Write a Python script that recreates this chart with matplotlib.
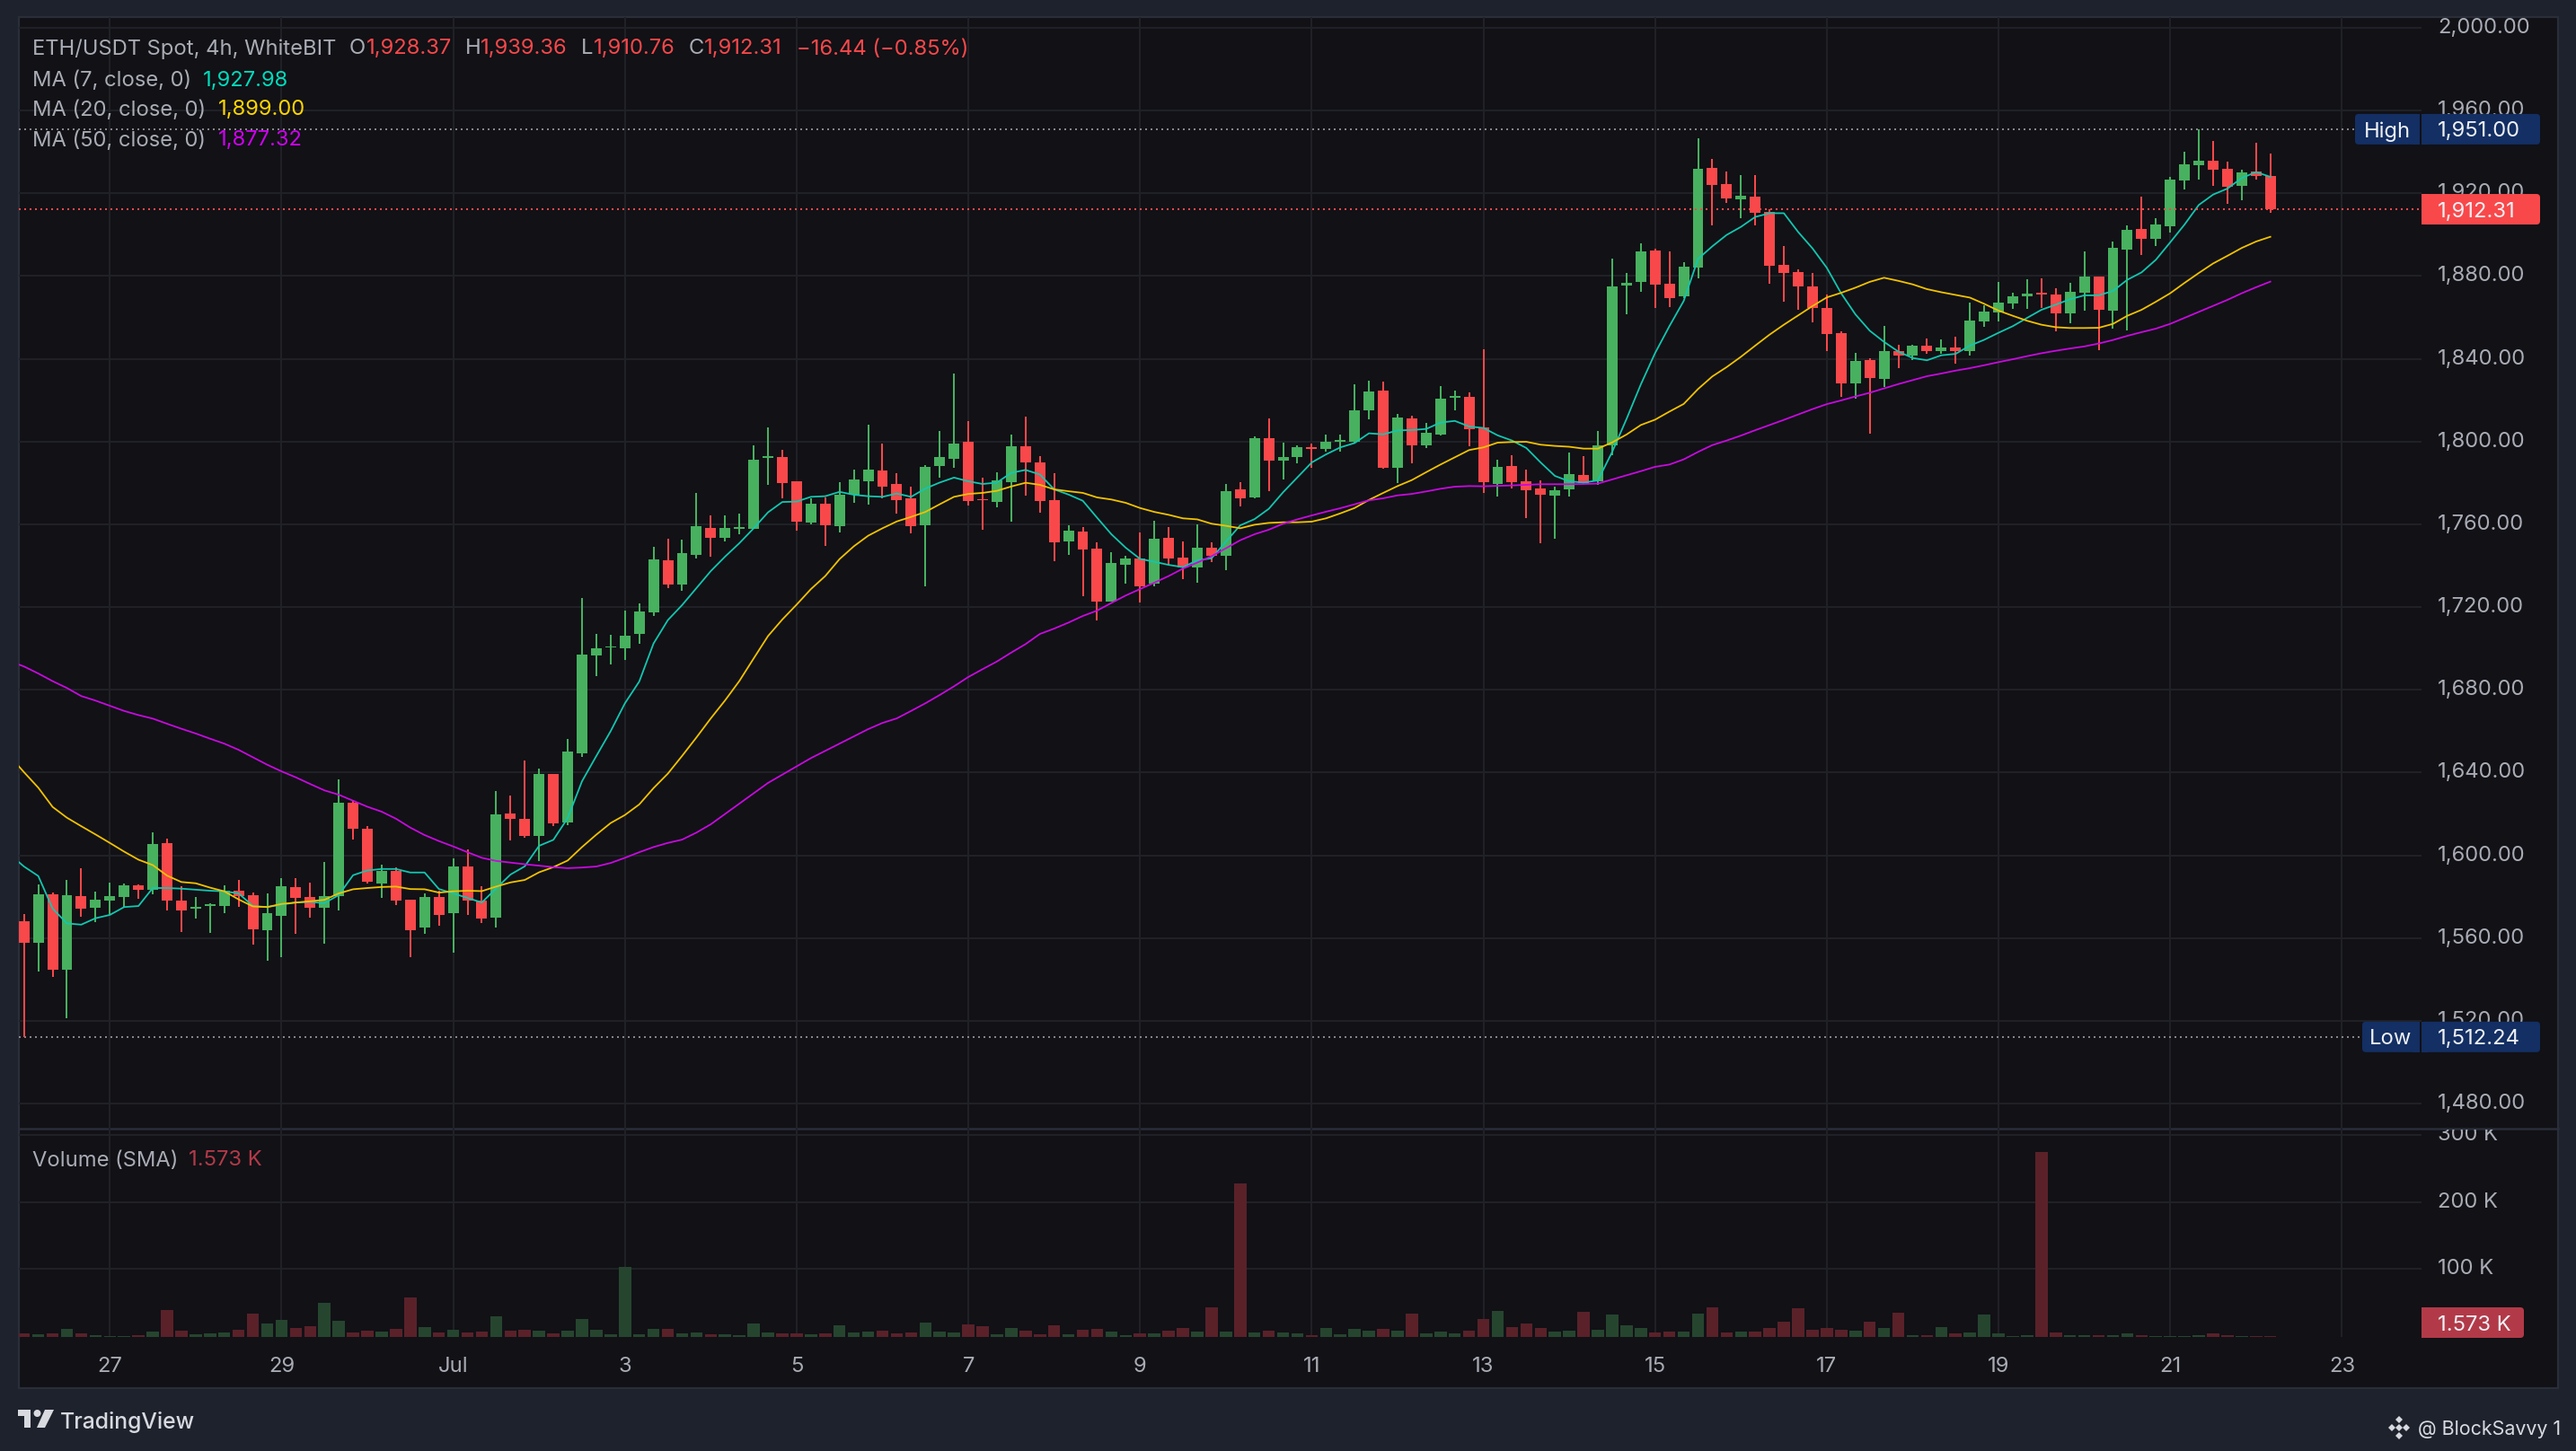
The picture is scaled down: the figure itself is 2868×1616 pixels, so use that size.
import matplotlib
matplotlib.use("Agg")
import matplotlib.pyplot as plt
from matplotlib.patches import FancyBboxPatch, Rectangle, Polygon, Circle
from matplotlib.transforms import Bbox

plt.rcParams['font.family'] = ['Inter', 'DejaVu Sans']
plt.rcParams['ytick.alignment'] = 'center'

# ---------- data ----------
OPEN = [1568.1,1557.8,1581.1,1544.8,1580.3,1574.8,1578.2,1579.8,1585.5,1583.4,1605.9,1578.1,1574.3,1575.6,1575.5,1582.9,1580.7,1563.9,1570.9,1584.6,
        1579.8,1574.8,1580.4,1625.4,1612.8,1586.3,1592.4,1578.5,1565.2,1579.8,1572.2,1594.6,1578.1,1570.0,1620.2,1617.6,1609.5,1639.3,1616.0,1649.3,
        1696.6,1700.4,1700.1,1707.1,1717.6,1742.6,1731.0,1745.3,1758.2,1753.5,1757.9,1757.9,1792.2,1792.5,1780.8,1760.8,1770.0,1759.3,1774.3,1781.0,
        1786.0,1779.5,1772.6,1759.7,1788.3,1791.8,1799.9,1772.1,1771.0,1780.5,1797.7,1789.9,1771.7,1751.9,1756.5,1748.2,1722.8,1740.6,1743.5,1731.5,
        1753.5,1743.9,1739.3,1748.7,1744.9,1776.9,1773.1,1801.7,1791.0,1792.5,1797.3,1796.4,1800.0,1799.9,1815.1,1824.7,1787.5,1811.2,1798.3,1803.4,
        1821.3,1821.6,1806.9,1779.7,1788.2,1780.8,1777.4,1774.0,1777.1,1783.9,1781.0,1798.3,1875.4,1877.1,1892.3,1876.3,1870.2,1884.1,1932.3,1924.5,
        1917.2,1918.4,1911.0,1885.4,1881.9,1875.0,1864.6,1852.4,1828.3,1839.4,1830.4,1843.8,1841.7,1846.4,1843.9,1845.5,1843.9,1858.2,1862.5,1866.9,
        1870.3,1871.9,1871.1,1862.1,1872.1,1879.8,1863.4,1892.9,1902.8,1898.1,1904.2,1926.4,1933.7,1935.8,1931.9,1923.8,1930.5,1928.37]
HIGH = [1571.4,1585.9,1582.0,1587.9,1593.6,1582.3,1586.8,1586.3,1585.9,1611.1,1607.9,1585.0,1579.7,1576.8,1585.5,1588.1,1582.0,1581.6,1588.9,1588.9,
        1586.8,1596.8,1636.7,1626.7,1614.0,1595.5,1594.2,1578.5,1581.6,1582.9,1598.5,1602.8,1585.0,1631.0,1628.9,1645.8,1641.9,1639.3,1656.2,1724.4,
        1707.0,1706.6,1718.3,1721.8,1749.1,1753.0,1752.6,1775.2,1764.3,1764.3,1765.2,1798.2,1806.8,1796.0,1780.8,1772.6,1773.0,1780.4,1786.5,1808.2,
        1799.0,1784.7,1778.2,1788.6,1805.1,1832.9,1809.9,1782.5,1785.2,1803.4,1812.1,1793.0,1784.7,1759.5,1758.7,1751.3,1746.5,1744.8,1756.2,1761.7,
        1758.7,1751.7,1760.0,1751.3,1779.5,1780.4,1802.5,1811.2,1799.5,1798.2,1799.0,1803.4,1803.4,1827.7,1829.4,1829.0,1813.4,1812.5,1809.0,1826.8,
        1824.7,1823.8,1844.6,1791.2,1793.4,1786.5,1781.3,1778.2,1794.7,1793.0,1805.1,1888.4,1881.5,1895.8,1893.2,1891.9,1886.7,1946.6,1936.6,1930.5,
        1928.8,1928.8,1912.4,1894.5,1883.2,1881.5,1871.1,1853.3,1842.9,1840.3,1855.9,1846.8,1846.8,1849.8,1849.4,1850.7,1867.2,1865.9,1877.1,1871.9,
        1878.4,1878.9,1874.1,1876.7,1891.9,1879.8,1896.7,1904.5,1918.4,1908.0,1927.9,1940.1,1951.0,1945.3,1935.3,1931.4,1944.4,1939.36]
LOW = [1512.24,1543.9,1541.3,1521.4,1570.4,1567.8,1571.3,1575.3,1579.0,1581.3,1573.5,1563.0,1569.6,1562.6,1572.2,1575.1,1557.0,1549.2,1550.9,1562.2,
       1570.0,1557.4,1573.5,1607.7,1586.5,1579.5,1576.1,1550.9,1562.2,1566.1,1553.1,1571.3,1567.4,1565.2,1607.3,1608.6,1597.3,1614.3,1614.7,1647.6,
       1686.6,1692.3,1694.5,1702.4,1715.8,1729.3,1728.0,1743.6,1744.5,1751.9,1755.3,1757.8,1779.2,1772.7,1757.1,1760.1,1749.7,1756.2,1770.5,1769.7,
       1772.7,1765.3,1755.8,1730.2,1782.7,1787.5,1769.2,1757.5,1768.4,1761.4,1774.0,1765.8,1742.3,1745.3,1725.4,1713.7,1722.8,1731.5,1722.4,1730.2,
       1740.6,1733.6,1731.9,1741.9,1738.0,1768.8,1772.5,1776.2,1781.8,1789.6,1787.5,1795.3,1795.3,1799.3,1810.9,1787.0,1780.1,1789.6,1797.0,1803.0,
       1815.3,1797.9,1775.3,1773.6,1777.5,1763.2,1751.0,1753.2,1773.6,1779.4,1779.2,1793.5,1861.7,1872.4,1864.6,1865.0,1869.5,1878.9,1904.5,1915.5,
       1908.1,1904.7,1876.4,1867.8,1863.9,1857.8,1843.9,1821.8,1820.9,1804.0,1826.5,1835.6,1839.6,1842.6,1842.6,1837.8,1841.7,1855.6,1858.2,1864.3,
       1864.3,1864.7,1853.4,1857.3,1863.4,1844.3,1854.7,1853.9,1890.3,1894.7,1901.2,1922.0,1926.8,1923.8,1915.0,1916.8,1926.8,1910.76]
CLOSE = [1557.8,1581.1,1544.8,1580.7,1574.3,1578.5,1580.3,1585.5,1583.4,1605.4,1578.2,1573.5,1575.1,1576.4,1582.9,1580.3,1564.2,1572.0,1585.0,1579.4,
         1574.8,1580.3,1625.4,1613.0,1587.2,1592.4,1578.2,1563.9,1579.8,1571.1,1594.6,1578.2,1569.6,1619.8,1617.7,1609.5,1639.3,1615.6,1650.1,1697.0,
         1700.1,1701.0,1706.2,1717.9,1743.0,1731.0,1746.1,1759.1,1753.5,1758.2,1758.7,1791.2,1793.0,1780.1,1761.3,1770.0,1759.7,1774.3,1781.7,1786.5,
         1778.3,1771.8,1759.3,1787.8,1792.5,1799.0,1771.4,1771.5,1781.2,1797.7,1790.1,1771.4,1751.4,1756.9,1748.0,1722.8,1741.3,1743.5,1730.2,1753.0,
         1743.6,1739.3,1748.7,1744.8,1776.0,1772.6,1801.6,1791.0,1792.5,1797.3,1796.6,1799.9,1800.8,1815.1,1824.2,1787.5,1811.6,1798.3,1804.3,1820.8,
         1821.9,1806.1,1780.5,1787.8,1780.5,1776.6,1774.5,1776.5,1784.3,1780.1,1798.2,1875.0,1876.7,1891.9,1875.9,1869.3,1884.5,1931.8,1924.0,1917.7,
         1918.8,1910.7,1885.1,1881.6,1875.1,1864.7,1852.1,1828.3,1839.0,1830.9,1843.8,1841.7,1846.4,1843.9,1845.5,1843.9,1858.5,1862.8,1867.2,1870.2,
         1871.5,1871.1,1862.1,1872.4,1879.8,1863.9,1893.7,1902.3,1898.1,1904.9,1926.7,1934.0,1935.8,1931.6,1923.3,1930.1,1928.5,1912.31]
VOLUME_K = [5.3,4,5.3,12,5.3,2.7,1.3,1.3,2.7,8,40,9.3,4,5.3,6.7,10.7,34.7,20,25.3,13.3,
            16,50.7,24,6.7,9.3,8,12,58.7,14.7,6.7,10.7,6.7,8,30.7,9.3,10.7,9.3,5.3,9.3,26.7,
            10.7,4,104,4,12,12,5.3,6.7,4,4,2.7,20,6.7,5.3,5.3,4,5.3,17.3,6.7,8,
            9.3,5.3,6.7,21.3,8,6.7,18.7,16,4,13.3,9.3,4,17.3,4,10.7,12,8,2.7,5.3,5.3,
            9.3,13.3,8,44,8,229.3,6.7,9.3,6.7,5.3,2.7,13.3,4,12,9.3,12,9.3,34.7,5.3,8,
            5.3,9.3,26.7,38.7,14.7,20,13.3,8,9.3,37.3,10.7,33.3,17.3,13.3,6.7,8,8,34.7,44,6.7,
            8,8,13.3,22.7,42.7,10.7,13.3,10.7,9.3,22.7,13.3,36,2.7,2.7,14.7,5.3,6.7,33.3,5.3,1.3,
            2.7,276,6.7,2.7,2.7,2.7,2.7,5.3,2.7,1.3,1.3,1.3,2.7,5.3,2.7,1.3,1.3,1.3]
# moving averages: first value belongs to the candle just left of the chart edge
MA7 = [1600.5,1594.6,1590.0,1574.3,1567.1,1566.5,1569.6,1571.2,1575.0,1575.5,1584.2,1584.2,1583.9,1583.4,1582.9,1582.6,1581.6,1575.5,1575.0,1576.2,
       1577.2,1577.5,1576.9,1580.8,1590.4,1592.7,1593.4,1593.4,1591.7,1591.7,1583.7,1581.6,1579.4,1577.2,1584.0,1590.7,1594.7,1604.6,1607.5,1618.0,
       1635.8,1648.0,1660.0,1673.5,1684.0,1702.4,1713.7,1721.0,1729.2,1737.4,1744.4,1750.9,1758.1,1765.8,1770.8,1771.0,1773.3,1773.6,1775.7,1774.3,
       1773.6,1773.3,1774.9,1773.3,1777.3,1780.2,1782.6,1780.8,1779.5,1780.2,1784.9,1786.3,1784.1,1776.9,1774.4,1771.4,1763.2,1755.2,1748.7,1743.3,
       1741.9,1740.4,1739.3,1742.6,1743.6,1751.6,1759.5,1762.5,1767.5,1775.5,1782.7,1789.9,1793.8,1797.2,1799.3,1804.0,1803.5,1805.4,1805.6,1806.1,
       1809.2,1810.0,1807.3,1806.6,1803.0,1800.5,1796.9,1789.9,1783.4,1780.8,1780.2,1781.2,1795.0,1810.9,1827.6,1842.8,1855.8,1868.0,1888.3,1894.4,
       1899.9,1903.8,1908.6,1910.4,1910.4,1901.3,1893.4,1884.0,1871.7,1861.5,1853.6,1848.2,1843.5,1840.4,1839.3,1841.7,1842.4,1846.4,1849.2,1852.6,
       1855.8,1859.8,1863.7,1866.2,1868.8,1870.7,1870.7,1872.8,1878.2,1881.8,1887.9,1896.3,1904.9,1914.4,1919.4,1922.3,1927.4,1930.3,1927.98]
MA20 = [1648.0,1640.2,1632.7,1623.4,1618.2,1614.1,1610.1,1606.0,1601.8,1597.9,1595.3,1590.2,1587.1,1586.5,1584.4,1582.6,1578.7,1575.3,1575.0,1576.5,
        1577.2,1577.8,1578.5,1581.6,1583.6,1584.2,1584.7,1584.9,1583.7,1583.6,1582.0,1582.6,1582.9,1582.7,1584.9,1586.9,1588.1,1591.8,1594.3,1597.5,
        1604.0,1610.0,1615.6,1619.5,1624.6,1632.5,1639.5,1648.1,1657.0,1666.2,1674.9,1684.3,1695.2,1706.0,1714.0,1721.2,1728.7,1735.0,1743.2,1749.4,
        1754.5,1758.1,1761.4,1763.6,1766.0,1769.7,1773.3,1774.7,1775.2,1776.2,1778.3,1780.1,1779.1,1776.9,1776.0,1775.2,1773.0,1772.0,1770.4,1767.9,
        1766.0,1764.6,1762.9,1762.4,1760.3,1759.3,1758.1,1759.8,1760.7,1761.0,1761.0,1761.3,1762.9,1765.3,1767.9,1771.8,1775.2,1778.5,1781.4,1785.2,
        1788.9,1792.4,1795.9,1797.2,1799.5,1799.8,1799.9,1798.5,1797.9,1797.5,1796.6,1796.6,1799.6,1803.4,1808.0,1810.6,1814.5,1818.2,1825.4,1831.5,
        1836.0,1841.0,1846.4,1851.7,1856.5,1861.0,1865.5,1869.7,1871.9,1874.4,1877.2,1879.2,1877.7,1876.0,1873.7,1872.2,1870.9,1869.6,1866.6,1863.3,
        1860.8,1858.4,1856.5,1855.3,1854.9,1854.9,1855.0,1856.9,1860.8,1863.7,1867.6,1871.7,1876.7,1881.5,1886.1,1889.8,1893.6,1896.7,1899.00]
MA50 = [1693.9,1691.3,1687.9,1684.2,1680.9,1677.0,1674.8,1672.3,1669.8,1667.8,1666.1,1663.6,1661.2,1658.9,1656.4,1654.0,1651.0,1647.4,1643.8,1640.6,
        1637.7,1634.5,1631.4,1629.3,1626.4,1623.5,1621.1,1617.7,1613.4,1609.8,1606.9,1604.3,1601.5,1598.8,1597.3,1596.5,1595.7,1595.0,1594.3,1593.8,
        1594.1,1594.6,1596.3,1598.8,1601.5,1604.0,1606.0,1607.6,1611.0,1615.0,1620.0,1625.0,1630.0,1635.0,1639.0,1643.0,1647.0,1650.5,1654.0,1657.5,
        1661.0,1664.0,1666.2,1669.8,1673.5,1677.5,1681.7,1686.2,1690.0,1693.7,1698.0,1702.1,1707.0,1709.6,1712.5,1715.7,1718.3,1722.0,1725.6,1728.7,
        1731.8,1735.0,1738.6,1741.5,1744.6,1748.4,1752.3,1755.2,1757.4,1760.3,1762.4,1764.3,1766.1,1767.8,1769.7,1771.6,1772.6,1774.0,1774.7,1775.9,
        1777.2,1778.2,1778.5,1778.4,1778.6,1778.8,1779.1,1779.4,1779.4,1779.4,1779.5,1779.7,1781.7,1783.7,1785.7,1787.8,1788.9,1791.4,1795.0,1798.3,
        1800.5,1802.9,1805.5,1808.0,1810.5,1813.1,1815.7,1818.1,1819.9,1821.8,1823.6,1825.7,1827.8,1829.7,1831.6,1832.9,1834.3,1835.5,1836.9,1838.4,
        1839.8,1841.3,1842.7,1843.9,1845.0,1846.0,1847.4,1849.1,1851.1,1852.9,1854.6,1856.9,1859.8,1862.7,1865.6,1868.5,1871.7,1874.6,1877.32]
PRICE_TICKS = [1480,1520,1560,1600,1640,1680,1720,1760,1800,1840,1880,1920,1960,2000]
VOLUME_TICKS = [100,200,300]
DATE_TICKS = [6,18,30,42,54,66,78,90,102,114,126,138,150,162]
DATE_LABELS = ['27','29','Jul','3','5','7','9','11','13','15','17','19','21','23']
HIGH_PRICE, LOW_PRICE, LAST_PRICE, LAST_VOL = 1951.00, 1512.24, 1912.31, 1.573

# ---------- style ----------
W, H = 2868, 1616
OUTER, PANE, EDGE, GRID = '#1e222d', '#111116', '#2a2e39', '#202126'
UP, DOWN = '#47b15f', '#f9484a'
UP_VOL, DOWN_VOL = '#26452f', '#5a2129'
TEAL, YELLOW, MAGENTA = '#12c7b0', '#f2c200', '#c909e0'
TXT, WHITE, NAVY, VOLRED = '#a9acb5', '#eef0f4', '#132f63', '#b23a48'
FS = 17.1

def rect(l, t, r, b):
    return [l / W, 1 - b / H, (r - l) / W, (b - t) / H]

fig = plt.figure(figsize=(W / 100, H / 100), dpi=100, facecolor=OUTER)

bg = fig.add_axes([0, 0, 1, 1], zorder=-1)
bg.set_xlim(0, W); bg.set_ylim(H, 0); bg.axis('off')
bg.add_patch(Rectangle((21, 19), 2827, 1527, fc=PANE, ec=EDGE, lw=1.6))
bg.plot([21, 2848], [1257, 1257], color=EDGE, lw=1.8)

L_PX, R_PX = 21, 2696
x0, dx = 26.7, 15.93
xlim = ((L_PX - x0) / dx, (R_PX - x0) / dx)

ax = fig.add_axes(rect(L_PX, 19, R_PX, 1257), zorder=1)
axv = fig.add_axes(rect(L_PX, 1257, R_PX, 1489), zorder=1)
for a in (ax, axv):
    a.set_facecolor('none')
    a.set_xlim(*xlim)
    for s in a.spines.values():
        s.set_visible(False)
    a.set_axisbelow(True)
    a.grid(True, color=GRID, lw=1.5)
    a.set_xticks(DATE_TICKS)
    a.yaxis.tick_right()
    a.tick_params(axis='both', length=0, labelsize=FS, labelcolor=TXT)

ax.set_ylim(2000 - (1257 - 31) / 2.304, 2000 - (19 - 31) / 2.304)
ax.set_yticks(PRICE_TICKS, [f'{p:,.2f}' for p in PRICE_TICKS])
ax.tick_params(axis='y', pad=13)
ax.tick_params(axis='x', labelbottom=False)

axv.set_ylim((1488 - 1489) / 0.747, (1488 - 1257) / 0.747)
axv.set_yticks(VOLUME_TICKS, [f'{v} K' for v in VOLUME_TICKS])
axv.tick_params(axis='y', pad=13)
axv.set_xticklabels(DATE_LABELS)
axv.tick_params(axis='x', pad=16)
for lbl in axv.get_yticklabels():
    lbl.set_clip_on(True)
    lbl.set_clip_box(Bbox([[0, H - 1546], [W, H - 1258]]))

n = len(CLOSE)
idx = list(range(n))
up = [c >= o for o, c in zip(OPEN, CLOSE)]
colors = [UP if u else DOWN for u in up]
ax.vlines(idx, LOW, HIGH, colors=colors, lw=1.44, zorder=3)
ax.bar(idx, [abs(c - o) for o, c in zip(OPEN, CLOSE)], bottom=[min(o, c) for o, c in zip(OPEN, CLOSE)],
       width=0.75, color=colors, lw=0, zorder=3)
ma_x = list(range(-1, n))
ax.plot(ma_x, MA7, color=TEAL, lw=1.3, zorder=4)
ax.plot(ma_x, MA20, color=YELLOW, lw=1.3, zorder=4)
ax.plot(ma_x, MA50, color=MAGENTA, lw=1.3, zorder=4)

axv.bar(idx, VOLUME_K, bottom=(1488 - 1489) / 0.747, width=0.85, color=[UP_VOL if u else DOWN_VOL for u in up], lw=0, zorder=3)

# price lines
dots = (0, (1, 2))
ax.plot([xlim[0], (2622 - x0) / dx], [HIGH_PRICE] * 2, color='#85858a', lw=1.44, ls=dots, zorder=2)
ax.plot([xlim[0], (2628 - x0) / dx], [LOW_PRICE] * 2, color='#85858a', lw=1.44, ls=dots, zorder=2)
ax.plot(list(xlim), [LAST_PRICE] * 2, color=DOWN, lw=1.44, ls=dots, zorder=5)

# overlay in pixel coordinates
ov = fig.add_axes([0, 0, 1, 1], zorder=10)
ov.set_xlim(0, W); ov.set_ylim(H, 0); ov.axis('off'); ov.patch.set_alpha(0)

def ypx(price):
    return H - ax.transData.transform((0, price))[1]

def badge(l, t, r, b, color, square=None):
    ov.add_patch(FancyBboxPatch((l + 4, t + 4), r - l - 8, b - t - 8, boxstyle='round,pad=4', fc=color, ec='none'))
    if square == 'left':
        ov.add_patch(Rectangle((l, t), 8, b - t, fc=color, ec='none'))
    if square == 'right':
        ov.add_patch(Rectangle((r - 8, t), 8, b - t, fc=color, ec='none'))

def tx(x, y, s, color=TXT, size=FS, ha='left', **kw):
    ov.text(x, y, s, color=color, fontsize=size, ha=ha, va='center_baseline', **kw)

yh, yl, yc = ypx(HIGH_PRICE), ypx(LOW_PRICE), ypx(LAST_PRICE)
badge(2622, yh - 17, 2694, yh + 17, NAVY, 'right')
badge(2696, yh - 17, 2828, yh + 17, NAVY, 'left')
tx(2658, yh, 'High', WHITE, ha='center')
tx(2714, yh, f'{HIGH_PRICE:,.2f}', WHITE)
badge(2630, yl - 17, 2694, yl + 17, NAVY, 'right')
badge(2696, yl - 17, 2828, yl + 17, NAVY, 'left')
tx(2662, yl, 'Low', WHITE, ha='center')
tx(2714, yl, f'{LOW_PRICE:,.2f}', WHITE)
badge(2696, yc - 17, 2828, yc + 17, DOWN, 'left')
tx(2714, yc, f'{LAST_PRICE:,.2f}', WHITE)
badge(2696, 1456, 2810, 1490, VOLRED, 'left')
tx(2714, 1473, f'{LAST_VOL:.3f} K', WHITE)

# legend rows
tx(36, 52, 'ETH/USDT Spot, 4h, WhiteBIT')
for x, s, c in [(389, 'O', TXT), (408, f'{OPEN[-1]:,.2f}', DOWN), (518, 'H', TXT), (535, f'{HIGH[-1]:,.2f}', DOWN),
                (647, 'L', TXT), (661, f'{LOW[-1]:,.2f}', DOWN), (767, 'C', TXT), (784, f'{CLOSE[-1]:,.2f}', DOWN),
                (887, '\u221216.44 (\u22120.85%)', DOWN)]:
    tx(x, 52, s, c)
tx(36, 87, 'MA (7, close, 0)'); tx(226, 87, f'{MA7[-1]:,.2f}', '#00dcbc')
tx(36, 120, 'MA (20, close, 0)'); tx(243, 120, f'{MA20[-1]:,.2f}', '#ffd500')
tx(36, 154, 'MA (50, close, 0)'); tx(243, 154, f'{MA50[-1]:,.2f}', '#cf00f0')
tx(36, 1290, 'Volume (SMA)'); tx(210, 1290, f'{LAST_VOL:.3f} K', VOLRED)

# footer: TradingView mark and watermark
LOGO = '#d8dae0'
ov.add_patch(Rectangle((20, 1570), 14, 7, fc=LOGO, ec='none'))
ov.add_patch(Rectangle((27, 1570), 7, 20, fc=LOGO, ec='none'))
ov.add_patch(Circle((41.5, 1574), 4, fc=LOGO, ec='none'))
ov.add_patch(Polygon([(50, 1570), (60, 1570), (50, 1590), (41, 1590)], fc=LOGO, ec='none'))
tx(67, 1582, 'TradingView', LOGO, size=17.8, fontweight='medium')
for cx, cy, r in [(2671, 1581, 4), (2663, 1590, 4), (2671, 1590, 4), (2679, 1590, 4), (2671, 1599, 4)]:
    ov.add_patch(Polygon([(cx, cy - r), (cx + r, cy), (cx, cy + r), (cx - r, cy)], fc=LOGO, ec='none'))
tx(2692, 1590, '@ BlockSavvy 1', LOGO, size=15.4)

fig.savefig('out.png', dpi=100, facecolor=OUTER)
